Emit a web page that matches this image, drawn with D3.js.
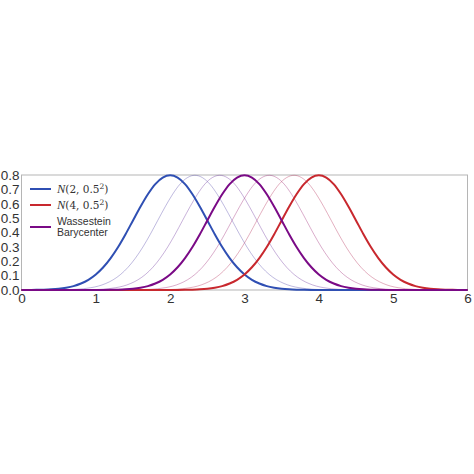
<!DOCTYPE html>
<html><head><meta charset="utf-8">
<script src="https://cdn.jsdelivr.net/npm/d3@7"></script>
<style>body{margin:0;background:#fff}svg{display:block}</style>
</head><body>
<svg id="c" width="474" height="474"></svg>
<script>
// Means of the displayed Gaussians (interpolation from N(2,0.5^2) to N(4,0.5^2))
const means = [2, 2.333, 2.667, 3, 3.333, 3.667, 4];
// Density profile of a N(mu, 0.5^2) curve, read at offsets from the mean
const offsets = [0,0.1,0.2,0.3,0.4,0.5,0.6,0.7,0.8,0.9,1.0,1.1,1.2,1.3,1.4,1.5,1.6,1.7,1.8,1.9,2.0,2.2,2.5];
const density = [0.798,0.782,0.737,0.666,0.579,0.484,0.388,0.299,0.222,0.158,0.108,0.071,0.045,0.027,0.016,0.0089,0.0048,0.0025,0.0012,0.0006,0.0003,0.0000,0.0000];
const xTicks = [0,1,2,3,4,5,6];
const yTicks = [0.0,0.1,0.2,0.3,0.4,0.5,0.6,0.7,0.8];
const legendLabels = ["N(2, 0.5²)", "N(4, 0.5²)", "Wassestein", "Barycenter"];

const svg = d3.select("#c");
const L = 21.5, R = 467.5, T = 175, B = 290;
const x = d3.scaleLinear().domain([0,6]).range([L,R]);
const y = d3.scaleLinear().domain([0,0.8]).range([B,T]);

const blue = "#2f4fb3", red = "#c8282e", purple = "#7a0a86";
function colorFor(i){
  if(i===0) return blue;
  if(i===6) return red;
  if(i===3) return purple;
  if(i<3) return d3.interpolateRgb(blue, purple)(i/3);
  return d3.interpolateRgb(purple, red)((i-3)/3);
}

function pts(mu){
  const p = [];
  for(let k=offsets.length-1;k>0;k--) p.push([mu-offsets[k], density[k]]);
  for(let k=0;k<offsets.length;k++) p.push([mu+offsets[k], density[k]]);
  const out = [[0,0]];
  p.forEach(d=>{ if(d[0]>0 && d[0]<6) out.push(d); });
  out.push([6,0]);
  return out;
}

// frame
svg.append("rect").attr("x",L).attr("y",T).attr("width",R-L).attr("height",B-T)
  .attr("fill","none").attr("stroke","#b5b5b5").attr("stroke-width",1);

const line = d3.line().x(d=>x(d[0])).y(d=>y(d[1])).curve(d3.curveMonotoneX);
const g = svg.append("g");
const order = [1,2,4,5,0,6,3];
order.forEach(i=>{
  const main = (i===0||i===3||i===6);
  g.append("path").attr("d", line(pts(means[i])))
   .attr("fill","none").attr("stroke", colorFor(i))
   .attr("stroke-width", main?2:1)
   .attr("stroke-opacity", main?1:0.35);
});

// axes labels
const axX = svg.append("g").attr("transform",`translate(0,${B})`)
  .call(d3.axisBottom(x).tickValues(xTicks).tickSize(0).tickPadding(3).tickFormat(d3.format("d")));
axX.select(".domain").remove();
axX.selectAll("text").attr("font-family","Liberation Sans, Arial, sans-serif").attr("font-size",13.5).attr("fill","#333");
const axY = svg.append("g").attr("transform",`translate(${L},0)`)
  .call(d3.axisLeft(y).tickValues(yTicks).tickSize(0).tickPadding(2).tickFormat(d3.format(".1f")));
axY.select(".domain").remove();
axY.selectAll("text").attr("font-family","Liberation Sans, Arial, sans-serif").attr("font-size",13.5).attr("fill","#333");

// legend
const lg = svg.append("g");
const rows = [{c:blue, y:189, t:legendLabels[0]},{c:red, y:205, t:legendLabels[1]}];
rows.forEach(r=>{
  lg.append("line").attr("x1",30).attr("x2",51).attr("y1",r.y).attr("y2",r.y).attr("stroke",r.c).attr("stroke-width",2);
  const parts = r.t.split("²");
  const t = lg.append("text").attr("x",57).attr("y",r.y+4).attr("font-family","DejaVu Serif, Liberation Serif, serif")
    .attr("font-size",10.5).attr("fill","#333");
  t.append("tspan").attr("font-style","italic").attr("font-family","Liberation Serif, serif").attr("font-size",12.5).text(parts[0].slice(0,1));
  t.append("tspan").text(parts[0].slice(1));
  t.append("tspan").attr("dy",-4).attr("font-size",7.5).text("2");
  t.append("tspan").attr("dy",4).text(parts[1]);
});
lg.append("line").attr("x1",30).attr("x2",51).attr("y1",227).attr("y2",227).attr("stroke",purple).attr("stroke-width",2);
lg.append("text").attr("x",57).attr("y",225).attr("font-family","Liberation Sans, Arial, sans-serif").attr("font-size",10.5).attr("fill","#333").text(legendLabels[2]);
lg.append("text").attr("x",57).attr("y",236).attr("font-family","Liberation Sans, Arial, sans-serif").attr("font-size",10.5).attr("fill","#333").text(legendLabels[3]);
</script>
</body></html>
